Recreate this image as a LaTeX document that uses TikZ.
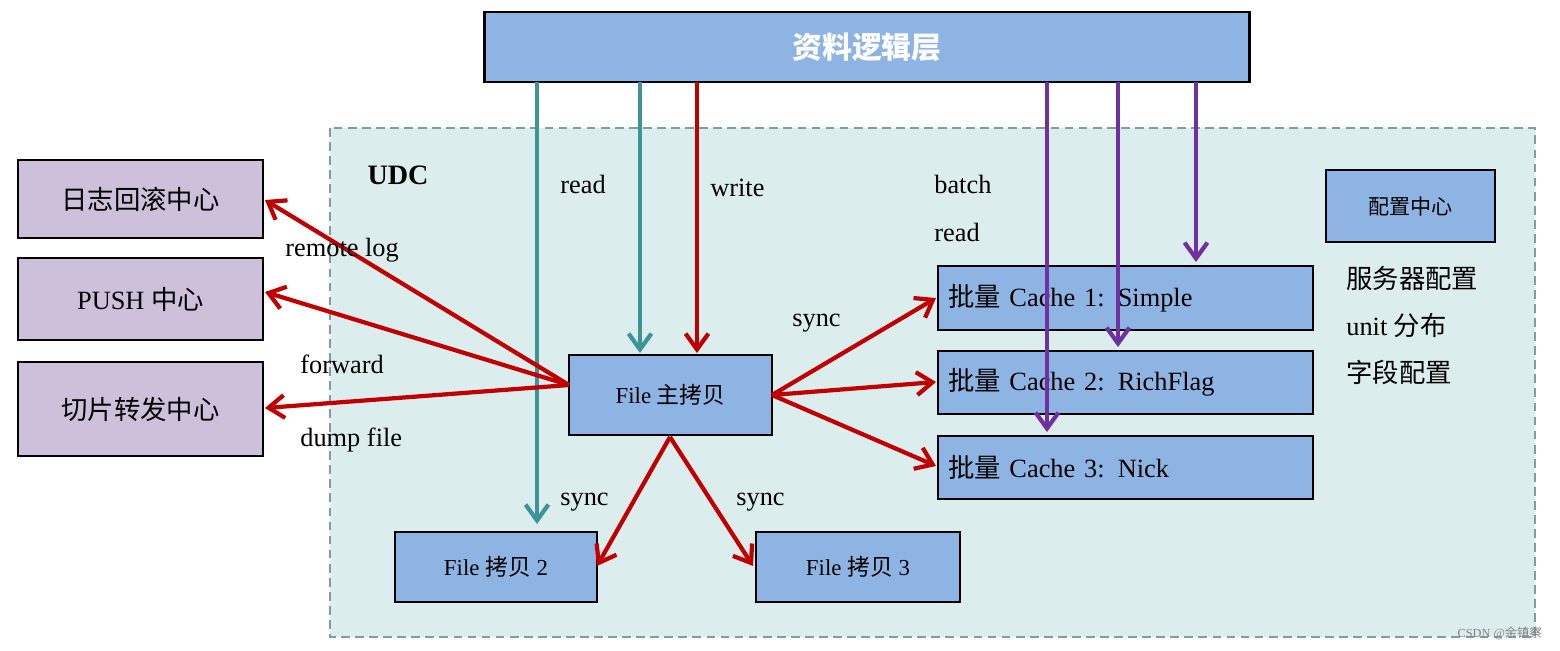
\documentclass[tikz,border=0pt]{standalone}
\usepackage{fontspec}
\setmainfont{Liberation Serif}
\newfontfamily\cjk{Noto Sans CJK SC}
\usetikzlibrary{arrows.meta}
\definecolor{boxblue}{HTML}{8EB4E3}
\definecolor{boxpurp}{HTML}{CCC0DA}
\definecolor{udcbg}{HTML}{DBEDED}
\definecolor{udcline}{HTML}{7F9F9F}
\definecolor{arred}{HTML}{C00000}
\definecolor{arteal}{HTML}{3D9498}
\definecolor{arpurp}{HTML}{7030A0}
\begin{document}
\begin{tikzpicture}[x=0.02cm,y=-0.02cm,
  box/.style={draw=black,line width=1.2pt,inner sep=0pt},
  blue/.style={box,fill=boxblue},
  purp/.style={box,fill=boxpurp},
  arr/.style={line width=2.4pt,-{Straight Barb[length=9pt,width=13pt,line width=2.4pt]}},
  lbl/.style={font=\fontsize{15}{17}\selectfont,anchor=west,inner sep=0pt}]
\useasboundingbox (0,0) rectangle (1560,650);
\fill[udcbg] (330,128) rectangle (1535,637);
\draw[udcline,line width=1.2pt,dash pattern=on 5pt off 3pt] (330,128) rectangle (1535,637);
\node[font=\fontsize{16}{18}\selectfont\bfseries] (udc) at (398,175) {UDC};
% boxes
\node[blue,minimum width=765*0.02cm,minimum height=70*0.02cm,text=white,font=\cjk\fontsize{17}{19}\selectfont\bfseries] (top) at (867,47) {资料逻辑层};
\node[purp,minimum width=245*0.02cm,minimum height=78*0.02cm,font=\cjk\fontsize{15}{17}\selectfont] (l1) at (140.5,199) {日志回滚中心};
\node[purp,minimum width=245*0.02cm,minimum height=82*0.02cm,font=\fontsize{15}{17}\selectfont] (l2) at (140.5,299) {PUSH {\cjk 中心}};
\node[purp,minimum width=245*0.02cm,minimum height=94*0.02cm,font=\cjk\fontsize{15}{17}\selectfont] (l3) at (140.5,409) {切片转发中心};
\node[blue,minimum width=203*0.02cm,minimum height=80*0.02cm,font=\fontsize{13}{15}\selectfont] (m) at (670.5,395) {File {\cjk 主拷贝}};
\node[blue,minimum width=202*0.02cm,minimum height=70*0.02cm,font=\fontsize{13}{15}\selectfont] (c2) at (496,567) {File {\cjk 拷贝} 2};
\node[blue,minimum width=204*0.02cm,minimum height=70*0.02cm,font=\fontsize{13}{15}\selectfont] (c3) at (858,567) {File {\cjk 拷贝} 3};
\node[blue,minimum width=375*0.02cm,minimum height=64*0.02cm,font=\fontsize{15}{17}\selectfont,text width=355*0.02cm,align=left] (k1) at (1125.5,298) {{\cjk 批量} Cache 1: Simple};
\node[blue,minimum width=375*0.02cm,minimum height=63*0.02cm,font=\fontsize{15}{17}\selectfont,text width=355*0.02cm,align=left] (k2) at (1125.5,382.5) {{\cjk 批量} Cache 2: RichFlag};
\node[blue,minimum width=375*0.02cm,minimum height=63*0.02cm,font=\fontsize{15}{17}\selectfont,text width=355*0.02cm,align=left] (k3) at (1125.5,467.5) {{\cjk 批量} Cache 3: Nick};
\node[blue,minimum width=169*0.02cm,minimum height=72*0.02cm,font=\cjk\fontsize{12}{14}\selectfont] (cfg) at (1410.5,206) {配置中心};
\node[lbl,font=\fontsize{15}{17}\selectfont\cjk] (t1) at (1346,278) {服务器配置};
\node[lbl] (t2) at (1346,326) {unit {\cjk 分布}};
\node[lbl,font=\fontsize{15}{17}\selectfont\cjk] (t3) at (1346,372) {字段配置};
% coordinates
\coordinate (a1s) at (537,82); \coordinate (a1e) at (537,524);
\coordinate (a2s) at (640,82); \coordinate (a2e) at (640,353);
\coordinate (a3s) at (697,82); \coordinate (a3e) at (697,353);
\coordinate (p1s) at (1047,82); \coordinate (p1e) at (1047,432);
\coordinate (p2s) at (1118,82); \coordinate (p2e) at (1118,347);
\coordinate (p3s) at (1196,82); \coordinate (p3e) at (1196,262);
\draw[arr,arteal] (a1s) -- (a1e);
\draw[arr,arteal] (a2s) -- (a2e);
\draw[arr,arred] (a3s) -- (a3e);
\draw[arr,arpurp] (p1s) -- (p1e);
\draw[arr,arpurp] (p2s) -- (p2e);
\draw[arr,arpurp] (p3s) -- (p3e);
\coordinate (ml) at (569,385);
\draw[arr,arred] (ml) -- (265,200);
\draw[arr,arred] (ml) -- (265,292);
\draw[arr,arred] (ml) -- (265,408);
\coordinate (mr) at (772,395);
\draw[arr,arred] (mr) -- (936,298);
\draw[arr,arred] (mr) -- (936,382);
\draw[arr,arred] (mr) -- (936,466);
\coordinate (mb) at (670,437);
\draw[arr,arred] (mb) -- (597,566);
\draw[arr,arred] (mb) -- (753,566);
% labels
\node[lbl] at (285,250) {remote log};
\node[lbl] at (300,364) {forward};
\node[lbl] at (300,440) {dump file};
\node[lbl] at (560,184) {read};
\node[lbl] at (710,188) {write};
\node[lbl] at (934,184) {batch};
\node[lbl] at (934,232) {read};
\node[lbl] at (792,323) {sync};
\node[lbl] at (560,502) {sync};
\node[lbl] at (736,502) {sync};
\node[anchor=east,font=\fontsize{7}{8}\selectfont,text=gray] at (1548,633) {CSDN @{\cjk 余镇察}};
\end{tikzpicture}
\end{document}
